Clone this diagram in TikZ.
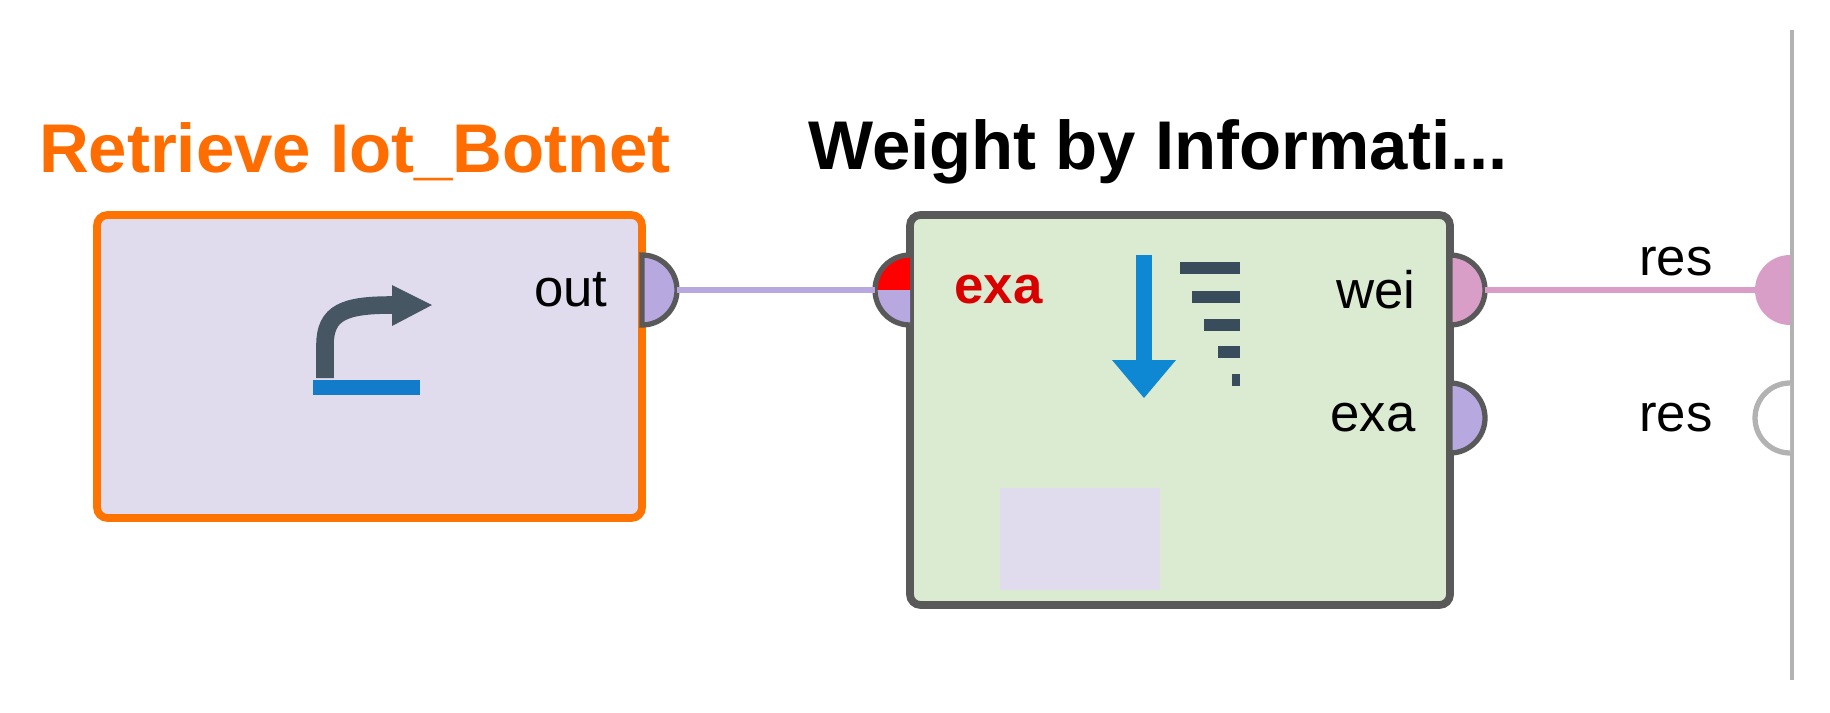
\documentclass[tikz,border=0pt]{standalone}
\usepackage{fontspec}
\setmainfont{Liberation Sans}
\definecolor{lav}{rgb}{0.88,0.86,0.93}
\definecolor{pgreen}{rgb}{0.86,0.92,0.82}
\definecolor{portv}{rgb}{0.72,0.66,0.88}
\definecolor{portp}{rgb}{0.85,0.62,0.78}
\definecolor{slate}{rgb}{0.22,0.30,0.36}
\begin{document}
\begin{tikzpicture}[x=0.01cm,y=-0.01cm,
  opbox/.style={draw=#1,line width=2.2pt,rounded corners=3pt},
  port/.style={draw=gray!70!black,line width=1.5pt},
  plabel/.style={font=\fontsize{15}{15}\selectfont},
  title/.style={font=\bfseries\fontsize{19.6}{20}\selectfont}]
\useasboundingbox (0,0) rectangle (1830,712);
% left operator
\node[title,text=orange!85!red] (t1) at (355,152) {Retrieve Iot\_Botnet};
\draw[opbox=orange!90!red,fill=lav] (97,215) rectangle (642,518);
\fill[portv,port] (642,255) arc (-90:90:35) -- cycle;
\node[plabel,anchor=east] (o1) at (620,290) {out};
% icon
\draw[slate!80!gray,line width=5pt] (325,378) -- (325,345) .. controls (325,312) and (345,305) .. (392,305);
\fill[slate!80!gray] (392,285) -- (432,305) -- (392,326) -- cycle;
\fill[cyan!60!blue] (313,380) rectangle (420,395);
% right operator
\node[title] (t2) at (1158,152) {Weight by Informati...};
\draw[opbox=gray!70!black,fill=pgreen] (910,215) rectangle (1450,605);
\fill[lav] (1000,488) rectangle (1160,590);
\fill[red] (910,255) arc (-90:-180:35) -- (910,290) -- cycle;
\fill[portv] (875,290) arc (180:90:35) -- (910,290) -- cycle;
\draw[port] (910,255) arc (-90:-270:35);
\node[text=red!85!black,font=\bfseries\fontsize{15}{15}\selectfont,anchor=west] (e1) at (942,290) {exa};
% icon down arrow
\fill[cyan!70!blue] (1136,255) rectangle (1152,360);
\fill[cyan!70!blue] (1112,360) -- (1176,360) -- (1144,398) -- cycle;
\foreach \y/\l in {268/60,297/48,325/36,352/22,380/8}
  \fill[slate] (1240-\l,\y-6) rectangle (1240,\y+6);
% right ports
\fill[port,fill=portp] (1450,255) arc (-90:90:35) -- cycle;
\node[plabel,anchor=east] (w1) at (1428,290) {wei};
\fill[portv,port] (1450,383) arc (-90:90:35) -- cycle;
\node[plabel,anchor=east] (x2) at (1428,418) {exa};
% result ports
\draw[gray!60,line width=1.2pt] (1792,30) -- (1792,680);
\fill[portp] (1790,255) arc (-90:-270:35) -- cycle;
\draw[port,draw=gray!60,fill=white] (1790,383) arc (-90:-270:35);
\node[plabel,anchor=east] (rs1) at (1725,262) {res};
\node[plabel,anchor=east] (rs2) at (1725,418) {res};
% connectors
\coordinate (a1) at (677,290);
\coordinate (a2) at (875,290);
\coordinate (c1) at (1485,290);
\coordinate (c2) at (1755,290);
\draw[portv,line width=1.5pt] (a1) -- (a2);
\draw[portp,line width=1.5pt] (c1) -- (c2);
\end{tikzpicture}
\end{document}
